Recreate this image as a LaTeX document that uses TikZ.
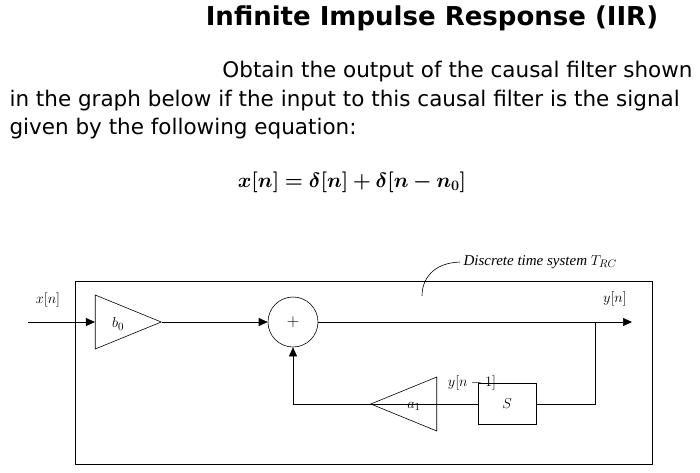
\documentclass[tikz,border=0pt]{standalone}
\usepackage{fontspec}
\setsansfont{DejaVu Sans}
\newfontfamily\serifd{Liberation Serif}
\usepackage{amsmath,bm}
\usetikzlibrary{shapes.geometric,arrows.meta}
\begin{document}
\begin{tikzpicture}[x=1pt,y=-1pt,
  blk/.style={draw,line width=0.6pt},
  amp/.style={draw,isosceles triangle,isosceles triangle stretches=true,inner sep=0pt,minimum height=66pt,minimum width=54pt,line width=0.6pt},
  ln/.style={line width=0.6pt},
  arr/.style={ln,-{Triangle[length=9pt,width=8pt]}},
  lbl/.style={font=\serifd\itshape\fontsize{15}{16}\selectfont}]
\useasboundingbox (0,0) rectangle (700,472);
\node[font=\sffamily\bfseries\fontsize{26}{28}\selectfont] (title) at (432,18) {Infinite Impulse Response (IIR)};
\node[font=\sffamily\fontsize{21.5}{24}\selectfont,anchor=east] (l1) at (696,72) {Obtain the output of the causal filter shown};
\node[font=\sffamily\fontsize{21.5}{24}\selectfont,anchor=west] (l2) at (6,101) {in the graph below if the input to this causal filter is the signal};
\node[font=\sffamily\fontsize{21.5}{24}\selectfont,anchor=west] (l3) at (6,129) {given by the following equation:};
\node[font=\fontsize{21}{24}\selectfont] (eq) at (352,182) {$\bm{x[n]=\delta[n]+\delta[n-n_0]}$};
\node[blk,minimum width=577pt,minimum height=183pt,inner sep=0pt] (sys) at (363.5,372.5) {};
\node[amp,anchor=apex] (b0) at (162,322) {};
\node[lbl] at (118,324) {$b_0$};
\node[circle,draw,ln,minimum size=50pt,inner sep=0pt,font=\fontsize{16}{17}\selectfont] (sum) at (293,322) {$+$};
\node[blk,minimum width=58pt,minimum height=41pt,inner sep=0pt,lbl] (S) at (507,404) {$S$};
\node[amp,shape border rotate=180,anchor=apex] (a1) at (370,404) {};
\node[lbl] at (414,406) {$a_1$};
\coordinate (in) at (28,322);
\coordinate (out) at (632,322);
\coordinate (br) at (595,322);
\coordinate (fb) at (293,404);
\draw[arr] (in) -- (b0.west);
\draw[arr] (b0.apex) -- (sum.west);
\draw[arr] (sum.east) -- (out);
\draw[ln] (br) |- (S.east);
\draw[ln] (S.west) -- (a1.west);
\draw[arr] (a1.apex) -- (fb) -- (sum.south);
\node[lbl] (xn) at (48,300) {$x[n]$};
\node[lbl] (yn) at (615,299) {$y[n]$};
\node[lbl] (yn1) at (472,383) {$y[n-1]$};
\node[lbl,anchor=west] (dts) at (460,262) {Discrete time system $T_{RC}$};
\draw[ln] (dts.west) .. controls (432,263) and (422,280) .. (422,296);
\end{tikzpicture}
\end{document}
